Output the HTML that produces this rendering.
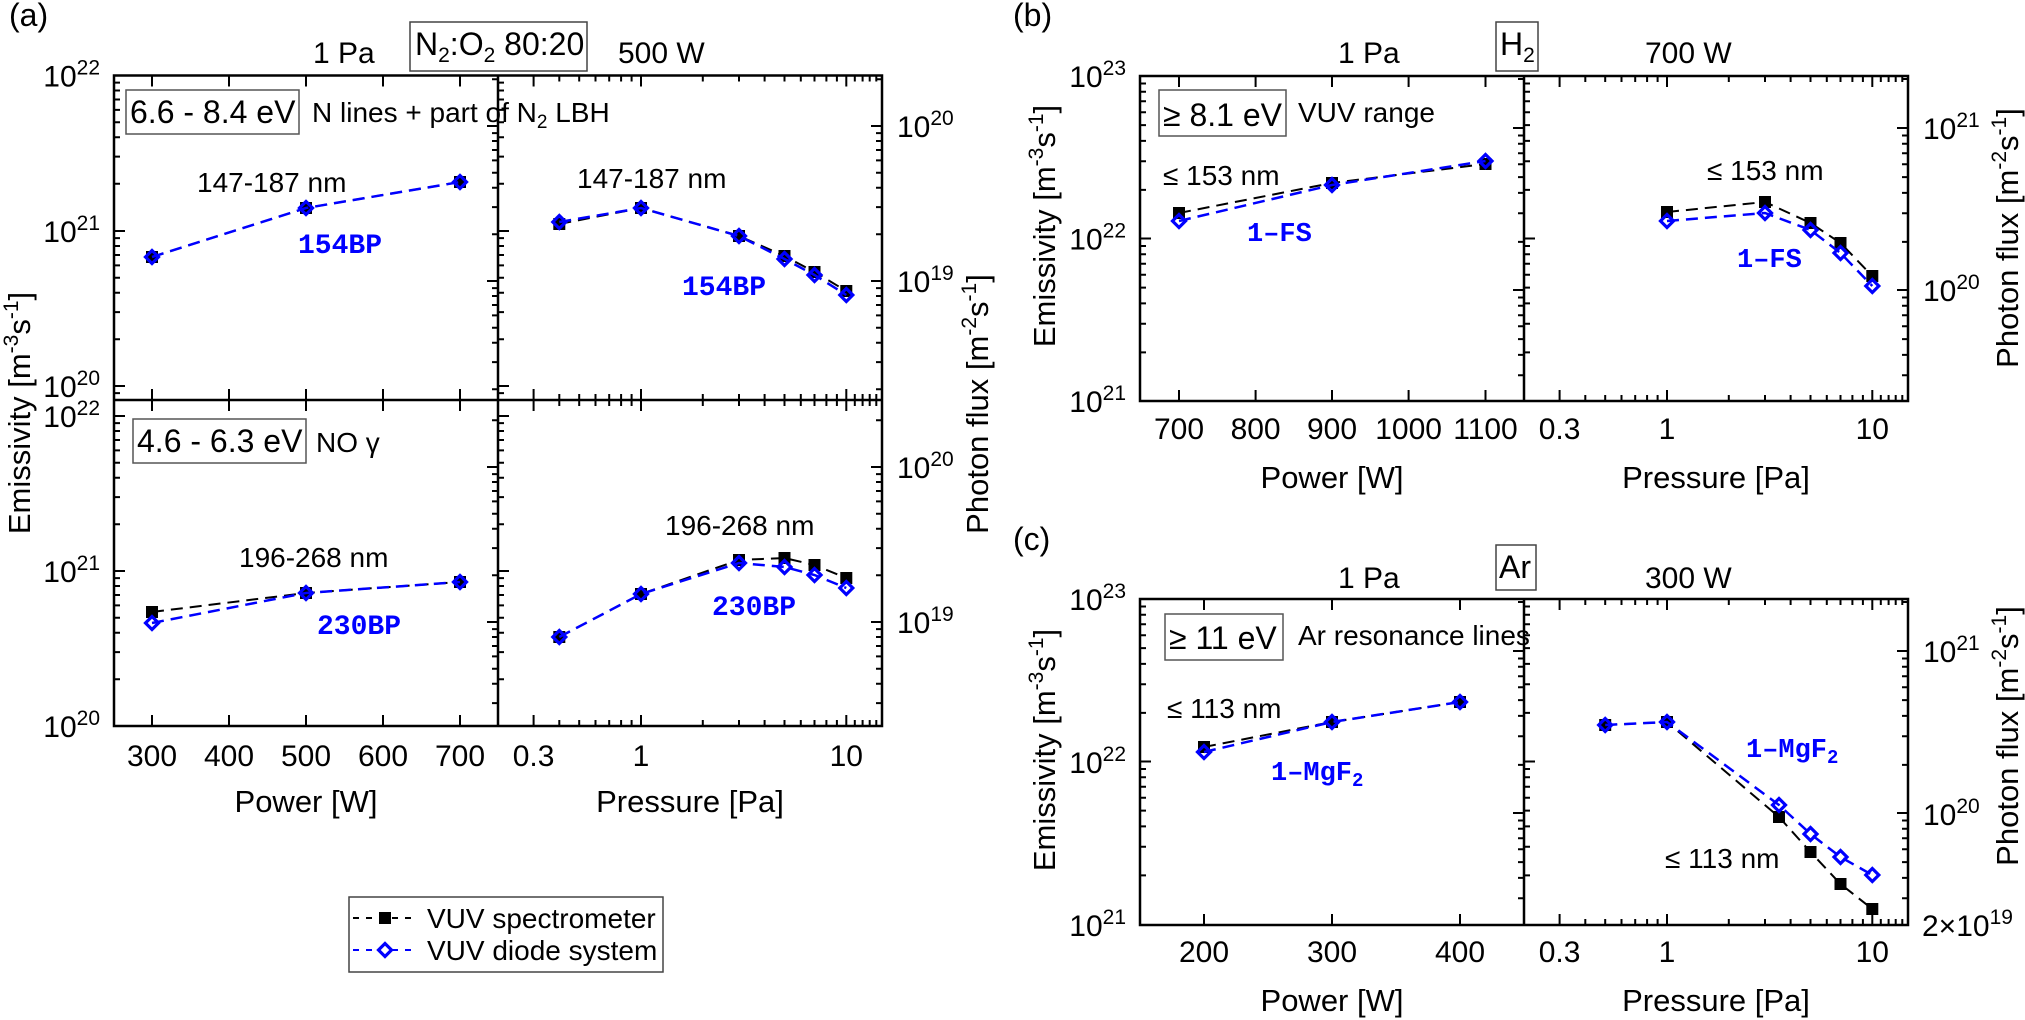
<!DOCTYPE html>
<html><head><meta charset="utf-8">
<style>
html,body{margin:0;padding:0;background:#fff}
svg{display:block}
text{font-family:"Liberation Sans",Arial,sans-serif;fill:#000}
.m{font-family:"Liberation Mono",monospace;font-weight:bold;fill:#0000ff;font-size:27px}
.t{font-size:30px}
.a{font-size:28px}
.bx{font-size:32px}
</style></head><body>
<svg width="2025" height="1020" viewBox="0 0 2025 1020" xmlns="http://www.w3.org/2000/svg">
<defs>
<rect id="sq" x="-6" y="-6" width="12" height="12" fill="#000"/>
<path id="dm" d="M0-6.5L6.5 0L0 6.5L-6.5 0Z" fill="none" stroke="#0000ff" stroke-width="3.2"/>
<path id="xP" d="M-107.4 0v11M0 0v11M205.3 0v11M-81.7 0v6M-61.8 0v6M-45.5 0v6M-31.8 0v6M-19.9 0v6M-9.4 0v6M61.8 0v6M98 0v6M123.6 0v6M143.5 0v6M159.8 0v6M173.5 0v6M185.4 0v6M195.9 0v6M213.8 0v6M221.6 0v6M228.7 0v6M235.3 0v6" stroke="#000" stroke-width="2" fill="none"/>
<path id="xWa" d="M152 0v11M229 0v11M306 0v11M383 0v11M460 0v11" stroke="#000" stroke-width="2"/>
<path id="xWb" d="M1179 0v11M1255.6 0v11M1332 0v11M1408.6 0v11M1485.5 0v11" stroke="#000" stroke-width="2"/>
<path id="xWc" d="M1204 0v11M1332 0v11M1460 0v11" stroke="#000" stroke-width="2"/>
<path id="emA1" d="M0 231h11M0 386h11M0 82.6h6M0 90.5h6M0 99.5h6M0 109.9h6M0 122.2h6M0 137.2h6M0 156.6h6M0 183.8h6M0 238.1h6M0 246h6M0 255h6M0 265.4h6M0 277.7h6M0 292.7h6M0 312.1h6M0 339.3h6M0 393.1h6" stroke="#000" stroke-width="2"/>
<path id="emA2" d="M0 416h11M0 571h11M0 423.1h6M0 431h6M0 440h6M0 450.4h6M0 462.7h6M0 477.7h6M0 497.1h6M0 524.3h6M0 578.1h6M0 586h6M0 595h6M0 605.4h6M0 617.7h6M0 632.7h6M0 652.1h6M0 679.3h6" stroke="#000" stroke-width="2"/>
<path id="pfA1" d="M0 126h-11M0 281h-11M0 79.3h-6M0 133.1h-6M0 141h-6M0 150h-6M0 160.4h-6M0 172.7h-6M0 187.7h-6M0 207.1h-6M0 234.3h-6M0 288.1h-6M0 296h-6M0 305h-6M0 315.4h-6M0 327.7h-6M0 342.7h-6M0 362.1h-6M0 389.3h-6" stroke="#000" stroke-width="2"/>
<path id="pfA2" d="M0 467h-11M0 622h-11M0 420.3h-6M0 474.1h-6M0 482h-6M0 491h-6M0 501.4h-6M0 513.7h-6M0 528.7h-6M0 548.1h-6M0 575.3h-6M0 629.1h-6M0 637h-6M0 646h-6M0 656.4h-6M0 668.7h-6M0 683.7h-6M0 703.1h-6" stroke="#000" stroke-width="2"/>
<path id="emB" d="M0 238.5h11M0 83.5h6M0 91.8h6M0 101.3h6M0 112.2h6M0 125.1h6M0 140.9h6M0 161.2h6M0 189.9h6M0 246h6M0 254.3h6M0 263.8h6M0 274.7h6M0 287.6h6M0 303.4h6M0 323.7h6M0 352.4h6" stroke="#000" stroke-width="2"/>
<path id="pfB" d="M0 128h-11M0 290h-11M0 79h-6M0 135.5h-6M0 143.8h-6M0 153.3h-6M0 164.2h-6M0 177.1h-6M0 192.9h-6M0 213.2h-6M0 241.9h-6M0 297.5h-6M0 305.8h-6M0 315.3h-6M0 326.2h-6M0 339.1h-6M0 354.9h-6M0 375.2h-6" stroke="#000" stroke-width="2"/>
</defs>

<!-- ================= PANEL (a) ================= -->
<text x="9" y="26" style="font-size:32px">(a)</text>
<text x="313" y="63" class="t">1 Pa</text>
<text x="618" y="63" class="t">500 W</text>
<rect x="410" y="22" width="177" height="49" fill="none" stroke="#444" stroke-width="1.5"/>
<text x="415" y="55" class="bx">N<tspan dy="7" font-size="21">2</tspan><tspan dy="-7">:O</tspan><tspan dy="7" font-size="21">2</tspan><tspan dy="-7"> 80:20</tspan></text>

<rect x="114" y="75.5" width="768" height="650.5" fill="none" stroke="#000" stroke-width="2.5"/>
<line x1="498" y1="75.5" x2="498" y2="726" stroke="#000" stroke-width="2.5"/>
<line x1="114" y1="400" x2="882" y2="400" stroke="#000" stroke-width="2.5"/>

<use href="#emA1" transform="translate(114,0)"/>
<use href="#emA1" transform="translate(498,0)"/>
<use href="#pfA1" transform="translate(498,0)"/>
<use href="#pfA1" transform="translate(882,0)"/>
<use href="#emA2" transform="translate(114,0)"/>
<use href="#emA2" transform="translate(498,0)"/>
<use href="#pfA2" transform="translate(498,0)"/>
<use href="#pfA2" transform="translate(882,0)"/>
<use href="#xWa" transform="translate(0,75.5)"/>
<use href="#xWa" transform="translate(0,400) scale(1,-1)"/>
<use href="#xWa" transform="translate(0,400)"/>
<use href="#xWa" transform="translate(0,726) scale(1,-1)"/>
<use href="#xP" transform="translate(641,75.5)"/>
<use href="#xP" transform="translate(641,400) scale(1,-1)"/>
<use href="#xP" transform="translate(641,400)"/>
<use href="#xP" transform="translate(641,726) scale(1,-1)"/>

<text x="100" y="86.5" class="t" text-anchor="end">10<tspan dy="-12" font-size="21">22</tspan></text>
<text x="100" y="242" class="t" text-anchor="end">10<tspan dy="-12" font-size="21">21</tspan></text>
<text x="100" y="397" class="t" text-anchor="end">10<tspan dy="-12" font-size="21">20</tspan></text>
<text x="100" y="427" class="t" text-anchor="end">10<tspan dy="-12" font-size="21">22</tspan></text>
<text x="100" y="582" class="t" text-anchor="end">10<tspan dy="-12" font-size="21">21</tspan></text>
<text x="100" y="737" class="t" text-anchor="end">10<tspan dy="-12" font-size="21">20</tspan></text>
<text x="897" y="137" class="t">10<tspan dy="-12" font-size="21">20</tspan></text>
<text x="897" y="292" class="t">10<tspan dy="-12" font-size="21">19</tspan></text>
<text x="897" y="478" class="t">10<tspan dy="-12" font-size="21">20</tspan></text>
<text x="897" y="633" class="t">10<tspan dy="-12" font-size="21">19</tspan></text>

<text x="152" y="766" class="t" text-anchor="middle">300</text>
<text x="229" y="766" class="t" text-anchor="middle">400</text>
<text x="306" y="766" class="t" text-anchor="middle">500</text>
<text x="383" y="766" class="t" text-anchor="middle">600</text>
<text x="460" y="766" class="t" text-anchor="middle">700</text>
<text x="533.6" y="766" class="t" text-anchor="middle">0.3</text>
<text x="641" y="766" class="t" text-anchor="middle">1</text>
<text x="846.3" y="766" class="t" text-anchor="middle">10</text>
<text x="306" y="812" text-anchor="middle" style="font-size:31px">Power [W]</text>
<text x="690" y="812" text-anchor="middle" style="font-size:31px">Pressure [Pa]</text>

<text transform="translate(30,413) rotate(-90)" text-anchor="middle" style="font-size:31px">Emissivity [m<tspan dy="-12" font-size="21">-3</tspan><tspan dy="12">s</tspan><tspan dy="-12" font-size="21">-1</tspan><tspan dy="12">]</tspan></text>
<text transform="translate(988,404) rotate(-90)" text-anchor="middle" style="font-size:31px">Photon flux [m<tspan dy="-12" font-size="21">-2</tspan><tspan dy="12">s</tspan><tspan dy="-12" font-size="21">-1</tspan><tspan dy="12">]</tspan></text>

<rect x="126" y="90" width="173" height="44" fill="none" stroke="#555" stroke-width="1.5"/>
<text x="130" y="123" class="bx">6.6 - 8.4 eV</text>
<text x="312" y="122" class="a">N lines + part of N<tspan dy="6" font-size="19">2</tspan><tspan dy="-6"> LBH</tspan></text>
<rect x="133" y="419" width="173" height="44" fill="none" stroke="#555" stroke-width="1.5"/>
<text x="137" y="452" class="bx">4.6 - 6.3 eV</text>
<text x="316" y="452" class="a">NO γ</text>

<text x="197" y="192" class="a">147-187 nm</text>
<text x="298" y="253" class="m" style="font-size:28px">154BP</text>
<text x="577" y="188" class="a">147-187 nm</text>
<text x="682" y="295" class="m" style="font-size:28px">154BP</text>
<text x="239" y="567" class="a">196-268 nm</text>
<text x="317" y="634" class="m" style="font-size:28px">230BP</text>
<text x="665" y="535" class="a">196-268 nm</text>
<text x="712" y="615" class="m" style="font-size:28px">230BP</text>

<g fill="none" stroke-dasharray="12 7">
<polyline points="152,257 306,208 460,182" stroke="#000" stroke-width="2"/>
<polyline points="559.3,224 641,208 739,236 784.5,256 814.5,272 846.3,291" stroke="#000" stroke-width="2"/>
<polyline points="152,612 306,593 460,582" stroke="#000" stroke-width="2"/>
<polyline points="559.3,637 641,594 739,560 784.5,558 814.5,565 846.3,578" stroke="#000" stroke-width="2"/>
</g>
<use href="#sq" x="152" y="257"/><use href="#sq" x="306" y="208"/><use href="#sq" x="460" y="182"/>
<use href="#sq" x="559.3" y="224"/><use href="#sq" x="641" y="208"/><use href="#sq" x="739" y="236"/><use href="#sq" x="784.5" y="256"/><use href="#sq" x="814.5" y="272"/><use href="#sq" x="846.3" y="291"/>
<use href="#sq" x="152" y="612"/><use href="#sq" x="306" y="593"/><use href="#sq" x="460" y="582"/>
<use href="#sq" x="559.3" y="637"/><use href="#sq" x="641" y="594"/><use href="#sq" x="739" y="560"/><use href="#sq" x="784.5" y="558"/><use href="#sq" x="814.5" y="565"/><use href="#sq" x="846.3" y="578"/>
<g fill="none" stroke-dasharray="12 7">
<polyline points="152,257 306,208 460,182" stroke="#0000ff" stroke-width="2.5"/>
<polyline points="559.3,222 641,208 739,236 784.5,259 814.5,275 846.3,295" stroke="#0000ff" stroke-width="2.5"/>
<polyline points="152,623 306,593 460,582" stroke="#0000ff" stroke-width="2.5"/>
<polyline points="559.3,637 641,594 739,563 784.5,567 814.5,575 846.3,588" stroke="#0000ff" stroke-width="2.5"/>
</g>
<use href="#dm" x="152" y="257"/><use href="#dm" x="306" y="208"/><use href="#dm" x="460" y="182"/>
<use href="#dm" x="559.3" y="222"/><use href="#dm" x="641" y="208"/><use href="#dm" x="739" y="236"/><use href="#dm" x="784.5" y="259"/><use href="#dm" x="814.5" y="275"/><use href="#dm" x="846.3" y="295"/>
<use href="#dm" x="152" y="623"/><use href="#dm" x="306" y="593"/><use href="#dm" x="460" y="582"/>
<use href="#dm" x="559.3" y="637"/><use href="#dm" x="641" y="594"/><use href="#dm" x="739" y="563"/><use href="#dm" x="784.5" y="567"/><use href="#dm" x="814.5" y="575"/><use href="#dm" x="846.3" y="588"/>

<!-- legend -->
<rect x="349" y="897" width="314" height="75" fill="#fff" stroke="#444" stroke-width="1.5"/>
<line x1="353" y1="918" x2="418" y2="918" stroke="#000" stroke-width="2" stroke-dasharray="6 7"/>
<use href="#sq" x="385" y="918"/>
<line x1="353" y1="950" x2="418" y2="950" stroke="#0000ff" stroke-width="2" stroke-dasharray="6 7"/>
<path d="M385 943.5L391.5 950L385 956.5L378.5 950Z" fill="#fff" stroke="#0000ff" stroke-width="3.2"/>
<text x="427" y="928" class="a">VUV spectrometer</text>
<text x="427" y="960" class="a">VUV diode system</text>

<!-- ================= PANEL (b) ================= -->
<text x="1013" y="26" style="font-size:32px">(b)</text>
<text x="1338" y="63" class="t">1 Pa</text>
<text x="1645" y="63" class="t">700 W</text>
<rect x="1496" y="22" width="42" height="49" fill="none" stroke="#444" stroke-width="1.5"/>
<text x="1500" y="55" class="bx">H<tspan dy="7" font-size="21">2</tspan></text>

<rect x="1140" y="76" width="768" height="325" fill="none" stroke="#000" stroke-width="2.5"/>
<line x1="1524" y1="76" x2="1524" y2="401" stroke="#000" stroke-width="2.5"/>
<use href="#emB" transform="translate(1140,0)"/>
<use href="#emB" transform="translate(1524,0)"/>
<use href="#pfB" transform="translate(1524,0)"/>
<use href="#pfB" transform="translate(1908,0)"/>
<use href="#xWb" transform="translate(0,76)"/>
<use href="#xWb" transform="translate(0,401) scale(1,-1)"/>
<use href="#xP" transform="translate(1667,76)"/>
<use href="#xP" transform="translate(1667,401) scale(1,-1)"/>

<text x="1126" y="87" class="t" text-anchor="end">10<tspan dy="-12" font-size="21">23</tspan></text>
<text x="1126" y="249.5" class="t" text-anchor="end">10<tspan dy="-12" font-size="21">22</tspan></text>
<text x="1126" y="412" class="t" text-anchor="end">10<tspan dy="-12" font-size="21">21</tspan></text>
<text x="1923" y="139" class="t">10<tspan dy="-12" font-size="21">21</tspan></text>
<text x="1923" y="301" class="t">10<tspan dy="-12" font-size="21">20</tspan></text>

<text x="1179" y="439" class="t" text-anchor="middle">700</text>
<text x="1255.6" y="439" class="t" text-anchor="middle">800</text>
<text x="1332" y="439" class="t" text-anchor="middle">900</text>
<text x="1408.6" y="439" class="t" text-anchor="middle">1000</text>
<text x="1485.5" y="439" class="t" text-anchor="middle">1100</text>
<text x="1559.6" y="439" class="t" text-anchor="middle">0.3</text>
<text x="1667" y="439" class="t" text-anchor="middle">1</text>
<text x="1872.3" y="439" class="t" text-anchor="middle">10</text>
<text x="1332" y="488" text-anchor="middle" style="font-size:31px">Power [W]</text>
<text x="1716" y="488" text-anchor="middle" style="font-size:31px">Pressure [Pa]</text>

<text transform="translate(1055,226) rotate(-90)" text-anchor="middle" style="font-size:31px">Emissivity [m<tspan dy="-12" font-size="21">-3</tspan><tspan dy="12">s</tspan><tspan dy="-12" font-size="21">-1</tspan><tspan dy="12">]</tspan></text>
<text transform="translate(2018,238) rotate(-90)" text-anchor="middle" style="font-size:31px">Photon flux [m<tspan dy="-12" font-size="21">-2</tspan><tspan dy="12">s</tspan><tspan dy="-12" font-size="21">-1</tspan><tspan dy="12">]</tspan></text>

<rect x="1159" y="90" width="127" height="46" fill="none" stroke="#555" stroke-width="1.5"/>
<text x="1163" y="126" class="bx">≥ 8.1 eV</text>
<text x="1298" y="122" class="a">VUV range</text>
<text x="1163" y="185" class="a">≤ 153 nm</text>
<text x="1247" y="241" class="m">1–FS</text>
<text x="1707" y="180" class="a">≤ 153 nm</text>
<text x="1737" y="267" class="m">1–FS</text>

<g fill="none" stroke-dasharray="12 7">
<polyline points="1179,213 1332,183 1485.5,164" stroke="#000" stroke-width="2"/>
<polyline points="1667,212 1765,202 1810.5,223 1840.5,243 1872.3,276" stroke="#000" stroke-width="2"/>
</g>
<use href="#sq" x="1179" y="213"/><use href="#sq" x="1332" y="183"/><use href="#sq" x="1485.5" y="164"/>
<use href="#sq" x="1667" y="212"/><use href="#sq" x="1765" y="202"/><use href="#sq" x="1810.5" y="223"/><use href="#sq" x="1840.5" y="243"/><use href="#sq" x="1872.3" y="276"/>
<g fill="none" stroke-dasharray="12 7">
<polyline points="1179,221 1332,185 1485.5,161" stroke="#0000ff" stroke-width="2.5"/>
<polyline points="1667,221 1765,213 1810.5,230 1840.5,253 1872.3,286" stroke="#0000ff" stroke-width="2.5"/>
</g>
<use href="#dm" x="1179" y="221"/><use href="#dm" x="1332" y="185"/><use href="#dm" x="1485.5" y="161"/>
<use href="#dm" x="1667" y="221"/><use href="#dm" x="1765" y="213"/><use href="#dm" x="1810.5" y="230"/><use href="#dm" x="1840.5" y="253"/><use href="#dm" x="1872.3" y="286"/>

<!-- ================= PANEL (c) ================= -->
<text x="1013" y="550" style="font-size:32px">(c)</text>
<text x="1338" y="588" class="t">1 Pa</text>
<text x="1645" y="588" class="t">300 W</text>
<rect x="1496" y="545" width="40" height="45" fill="none" stroke="#444" stroke-width="1.5"/>
<text x="1499" y="578" class="bx">Ar</text>

<rect x="1140" y="599" width="768" height="326" fill="none" stroke="#000" stroke-width="2.5"/>
<line x1="1524" y1="599" x2="1524" y2="925" stroke="#000" stroke-width="2.5"/>
<use href="#emB" transform="translate(1140,523)"/>
<use href="#emB" transform="translate(1524,523)"/>
<use href="#pfB" transform="translate(1524,523)"/>
<use href="#pfB" transform="translate(1908,523)"/>
<use href="#xWc" transform="translate(0,599)"/>
<use href="#xWc" transform="translate(0,925) scale(1,-1)"/>
<use href="#xP" transform="translate(1667,599)"/>
<use href="#xP" transform="translate(1667,925) scale(1,-1)"/>

<text x="1126" y="610" class="t" text-anchor="end">10<tspan dy="-12" font-size="21">23</tspan></text>
<text x="1126" y="773" class="t" text-anchor="end">10<tspan dy="-12" font-size="21">22</tspan></text>
<text x="1126" y="936" class="t" text-anchor="end">10<tspan dy="-12" font-size="21">21</tspan></text>
<text x="1923" y="662" class="t">10<tspan dy="-12" font-size="21">21</tspan></text>
<text x="1923" y="825" class="t">10<tspan dy="-12" font-size="21">20</tspan></text>
<text x="1922" y="936" class="t">2×10<tspan dy="-12" font-size="21">19</tspan></text>

<text x="1204" y="962" class="t" text-anchor="middle">200</text>
<text x="1332" y="962" class="t" text-anchor="middle">300</text>
<text x="1460" y="962" class="t" text-anchor="middle">400</text>
<text x="1559.6" y="962" class="t" text-anchor="middle">0.3</text>
<text x="1667" y="962" class="t" text-anchor="middle">1</text>
<text x="1872.3" y="962" class="t" text-anchor="middle">10</text>
<text x="1332" y="1011" text-anchor="middle" style="font-size:31px">Power [W]</text>
<text x="1716" y="1011" text-anchor="middle" style="font-size:31px">Pressure [Pa]</text>

<text transform="translate(1055,750) rotate(-90)" text-anchor="middle" style="font-size:31px">Emissivity [m<tspan dy="-12" font-size="21">-3</tspan><tspan dy="12">s</tspan><tspan dy="-12" font-size="21">-1</tspan><tspan dy="12">]</tspan></text>
<text transform="translate(2018,736) rotate(-90)" text-anchor="middle" style="font-size:31px">Photon flux [m<tspan dy="-12" font-size="21">-2</tspan><tspan dy="12">s</tspan><tspan dy="-12" font-size="21">-1</tspan><tspan dy="12">]</tspan></text>

<rect x="1165" y="614" width="118" height="46" fill="none" stroke="#555" stroke-width="1.5"/>
<text x="1169" y="649" class="bx">≥ 11 eV</text>
<text x="1298" y="645" class="a">Ar resonance lines</text>
<text x="1167" y="718" class="a">≤ 113 nm</text>
<text x="1271" y="780" class="m">1–MgF<tspan dy="6" font-size="19">2</tspan></text>
<text x="1746" y="757" class="m">1–MgF<tspan dy="6" font-size="19">2</tspan></text>
<text x="1665" y="868" class="a">≤ 113 nm</text>

<g fill="none" stroke-dasharray="12 7">
<polyline points="1204,747 1332,722 1460,702" stroke="#000" stroke-width="2"/>
<polyline points="1605.2,725 1667,722 1779,817 1810.5,852 1840.5,884 1872.3,909" stroke="#000" stroke-width="2"/>
</g>
<use href="#sq" x="1204" y="747"/><use href="#sq" x="1332" y="722"/><use href="#sq" x="1460" y="702"/>
<use href="#sq" x="1605.2" y="725"/><use href="#sq" x="1667" y="722"/><use href="#sq" x="1779" y="817"/><use href="#sq" x="1810.5" y="852"/><use href="#sq" x="1840.5" y="884"/><use href="#sq" x="1872.3" y="909"/>
<g fill="none" stroke-dasharray="12 7">
<polyline points="1204,752 1332,722 1460,702" stroke="#0000ff" stroke-width="2.5"/>
<polyline points="1605.2,725 1667,722 1779,805 1810.5,834 1840.5,857 1872.3,875" stroke="#0000ff" stroke-width="2.5"/>
</g>
<use href="#dm" x="1204" y="752"/><use href="#dm" x="1332" y="722"/><use href="#dm" x="1460" y="702"/>
<use href="#dm" x="1605.2" y="725"/><use href="#dm" x="1667" y="722"/><use href="#dm" x="1779" y="805"/><use href="#dm" x="1810.5" y="834"/><use href="#dm" x="1840.5" y="857"/><use href="#dm" x="1872.3" y="875"/>
</svg>
</body></html>
